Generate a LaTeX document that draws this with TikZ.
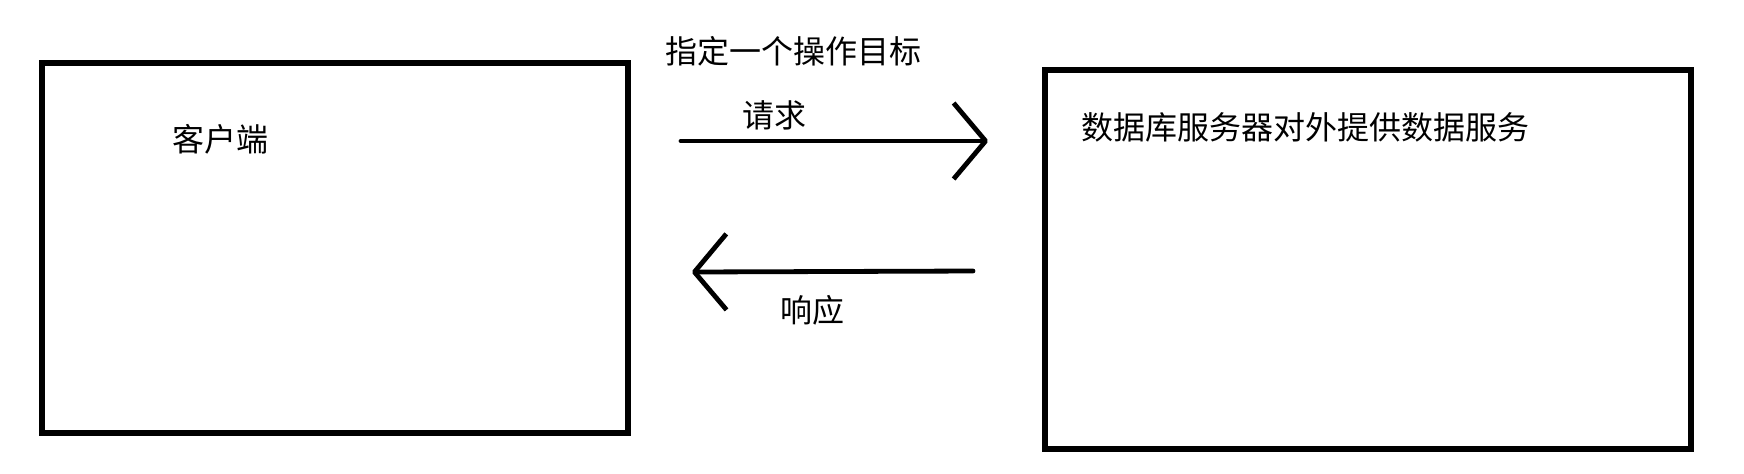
\documentclass[tikz,border=0pt]{standalone}
\usepackage{fontspec}
\newfontfamily\cjk{Noto Sans CJK SC}
\usetikzlibrary{arrows.meta}

\begin{document}
\begin{tikzpicture}[x=0.5pt, y=-0.5pt]

	% Styles for boxes, texts and arrows
	\tikzstyle{block} = [rectangle, draw, line width=2.6pt, inner sep=0pt]
	\tikzstyle{txt} = [inner sep=0pt, font=\cjk\fontsize{16pt}{19pt}\selectfont]
	\tikzstyle{flow} = [line width=2.4pt, line cap=round,
	-{Straight Barb[length=16pt, width=38pt, line join=round]}]

	\useasboundingbox (0,0) rectangle (1744,473);

	% Boxes
	\node[block, minimum width=293pt, minimum height=185pt] (client) at (335,248) {};
	\node[block, minimum width=323pt, minimum height=189.5pt] (server) at (1368,259.5) {};

	% Texts
	\node[txt] (clienttext) at (220,139) {客户端};
	\node[txt, anchor=west] (servertext) at (1081,127) {数据库服务器对外提供数据服务};
	\node[txt] (target) at (793,51) {指定一个操作目标};
	\node[txt] (req) at (774,115) {请求};
	\node[txt] (resp) at (812,310) {响应};

	% Arrow ends
	\coordinate (reqstart) at (681,141);
	\coordinate (reqend) at (988,141);
	\coordinate (respstart) at (973,271);
	\coordinate (respend) at (692,272);

	% Arrows
	\draw[flow] (reqstart) -- (reqend);
	\draw[flow] (respstart) -- (respend);

\end{tikzpicture}
\end{document}
